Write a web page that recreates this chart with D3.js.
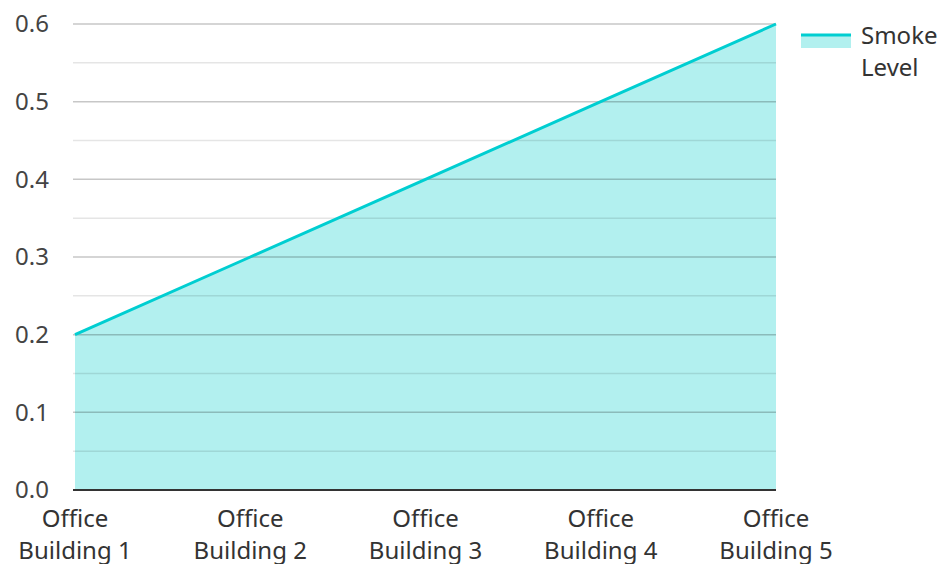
<!DOCTYPE html>
<html>
<head>
<meta charset="utf-8">
<script src="https://cdn.jsdelivr.net/npm/d3@7"></script>
<style>
  body { margin: 0; background: #ffffff; }
  text { font-family: "Noto Sans", "Open Sans", sans-serif; }
</style>
</head>
<body>
<div id="viz-container"></div>
<script>
let w = 941;
let h = 564;

// data
const buildings = ["Office Building 1", "Office Building 2", "Office Building 3", "Office Building 4", "Office Building 5"];
const smokeLevel = [0.2, 0.3, 0.4, 0.5, 0.6];
const yTicks = [0, 0.1, 0.2, 0.3, 0.4, 0.5, 0.6];
const yMinor = [0.05, 0.15, 0.25, 0.35, 0.45, 0.55];

const lineColor = "#00ced1";
const padL = 75, padR = 776, padT = 24, padB = 490;
const fontSize = 24;

let viz = d3.select("#viz-container")
  .append("svg")
  .attr("width", w)
  .attr("height", h)
  .style("background-color", "#ffffff");

let x = d3.scalePoint().domain(buildings).range([padL, padR]);
let y = d3.scaleLinear().domain([0, 0.6]).range([padB, padT]);

let data = buildings.map((b, i) => ({ name: b, value: smokeLevel[i] }));

// area
let areaMaker = d3.area()
  .x(d => x(d.name))
  .y0(y(0))
  .y1(d => y(d.value));
viz.append("path")
  .datum(data)
  .attr("d", areaMaker)
  .attr("fill", "rgb(178,240,239)");

// gridlines (drawn over the fill, slightly transparent)
viz.selectAll(".minor").data(yMinor).enter().append("line")
  .attr("class", "minor")
  .attr("x1", padL - 2).attr("x2", padR)
  .attr("y1", d => y(d)).attr("y2", d => y(d))
  .attr("stroke", "rgba(0,0,0,0.1)")
  .attr("stroke-width", 1.5);
viz.selectAll(".major").data(yTicks.filter(d => d > 0)).enter().append("line")
  .attr("class", "major")
  .attr("x1", padL - 2).attr("x2", padR)
  .attr("y1", d => y(d)).attr("y2", d => y(d))
  .attr("stroke", "rgba(0,0,0,0.22)")
  .attr("stroke-width", 1.5);

// line
let lineMaker = d3.line()
  .x(d => x(d.name))
  .y(d => y(d.value));
viz.append("path")
  .datum(data)
  .attr("d", lineMaker)
  .attr("fill", "none")
  .attr("stroke", lineColor)
  .attr("stroke-width", 3);

// y axis
let yAxis = d3.axisLeft(y).tickValues(yTicks).tickFormat(d3.format(".1f")).tickSize(0).tickPadding(24);
let yg = viz.append("g").attr("transform", `translate(${padL - 2},0)`).call(yAxis);
yg.select(".domain").remove();
yg.selectAll("text")
  .attr("font-size", fontSize)
  .attr("fill", "#444444")
  .attr("font-family", "Noto Sans, Open Sans, sans-serif");

// x baseline
viz.append("line")
  .attr("x1", padL - 2).attr("x2", padR)
  .attr("y1", y(0)).attr("y2", y(0))
  .attr("stroke", "#333333")
  .attr("stroke-width", 2);

// x labels on two lines
let xl = viz.selectAll(".xlabel").data(buildings).enter().append("text")
  .attr("class", "xlabel")
  .attr("text-anchor", "middle")
  .attr("font-size", fontSize)
  .attr("fill", "#333333");
xl.each(function (d) {
  let words = d.split(" ");
  let t = d3.select(this);
  t.append("tspan").attr("x", x(d)).attr("y", 527).text(words[0]);
  t.append("tspan").attr("x", x(d)).attr("y", 559).text(words.slice(1).join(" "));
});

// legend
let lg = viz.append("g");
lg.append("rect")
  .attr("x", 801).attr("y", 35).attr("width", 50).attr("height", 13)
  .attr("fill", "rgb(178,240,239)");
lg.append("line")
  .attr("x1", 801).attr("x2", 851).attr("y1", 35).attr("y2", 35)
  .attr("stroke", lineColor).attr("stroke-width", 3);
let lt = lg.append("text").attr("font-size", fontSize).attr("fill", "#333333");
lt.append("tspan").attr("x", 861).attr("y", 44).text("Smoke");
lt.append("tspan").attr("x", 861).attr("y", 76).text("Level");
</script>
</body>
</html>
